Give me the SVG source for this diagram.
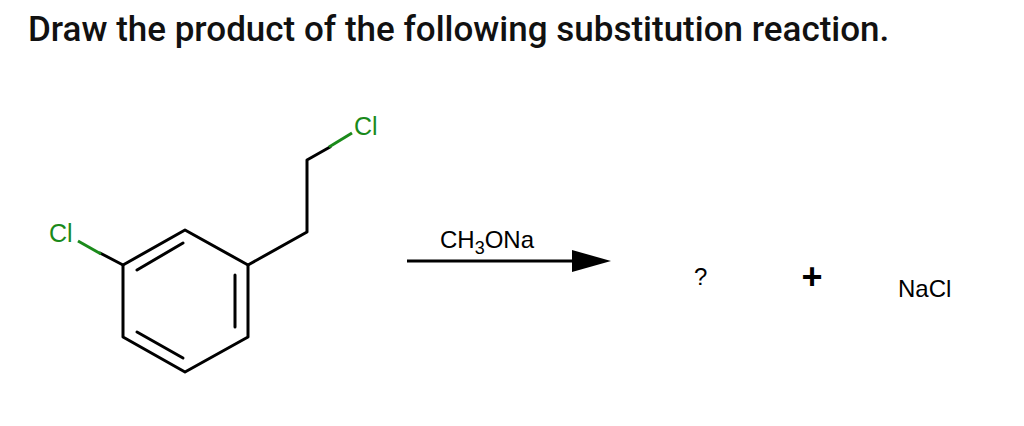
<svg xmlns="http://www.w3.org/2000/svg" width="1024" height="426" viewBox="0 0 1024 426">
<style>
.b{stroke:#000;stroke-width:3;fill:none;stroke-linecap:round;stroke-linejoin:round}
.g{stroke:#1a8a1a;stroke-width:3}
.cl{fill:#1a8a1a;font-family:"Liberation Sans",Arial,sans-serif;font-size:25px}
.t{font-family:"Liberation Sans",Arial,sans-serif;font-size:24px;fill:#000}
</style>
<rect width="1024" height="426" fill="#fff"/>
<text x="28" y="41" font-family="Roboto,'Liberation Sans',sans-serif" font-size="35" font-weight="500" fill="#111">Draw the product of the following substitution reaction.</text>
<g id="reactant">
<polygon class="b" points="185,230 248,265 248,337 185,372 123,337 123,265"/>
<line class="b" x1="137" y1="270" x2="183" y2="243"/>
<line class="b" x1="235" y1="275" x2="235" y2="327"/>
<line class="b" x1="137" y1="332" x2="183" y2="358"/>
<polyline class="b" points="248,265 307,232 307,160 330,147"/>
<line class="g" x1="329" y1="147" x2="352" y2="133"/>
<line class="b" x1="123" y1="265" x2="100" y2="253"/>
<line class="g" x1="101" y1="254" x2="78" y2="241"/>
<text class="cl" x="354" y="135">Cl</text>
<text class="cl" x="49" y="242">Cl</text>
</g>
<g id="connectors">
<line x1="407" y1="261" x2="575" y2="261" stroke="#000" stroke-width="3"/>
<polygon points="572,250 611,261 572,272" fill="#000"/>
</g>
<g id="reagent"><text class="t" x="440" y="248">CH<tspan font-size="18" dy="6">3</tspan><tspan dy="-6">ONa</tspan></text></g>
<g id="product"><text class="t" x="694" y="285" font-size="20">?</text></g>
<g id="plus"><text x="812" y="289" text-anchor="middle" font-family="'Liberation Sans',Arial,sans-serif" font-size="36" font-weight="bold">+</text></g>
<g id="nacl"><text class="t" x="898" y="297">NaCl</text></g>
</svg>
